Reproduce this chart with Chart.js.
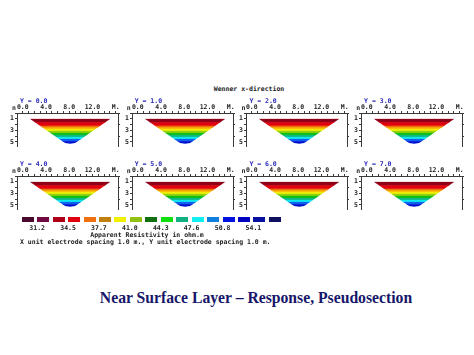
<!DOCTYPE html>
<html>
<head>
<meta charset="utf-8">
<script src="https://cdn.jsdelivr.net/npm/chart.js@4/dist/chart.umd.min.js"></script>
<style>
  html, body { margin: 0; padding: 0; background: #ffffff; }
  #wrap { position: relative; width: 474px; height: 355px; overflow: hidden; background: #fff; }
  .mono { position: absolute; font-family: 'DejaVu Sans Mono', monospace; font-weight: bold; font-size: 6.5px; line-height: 8px; white-space: nowrap; color: #222; }
  .ylab { color: #2a2ab8; }
  canvas { position: absolute; }
  .sw { position: absolute; height: 5px; width: 12px; }
  #foot { position: absolute; left: 0; width: 512px; top: 289px; text-align: center; font-family: 'Liberation Serif', 'Times New Roman', serif; font-weight: bold; font-size: 15.7px; color: #16166a; white-space: nowrap; }
</style>
</head>
<body>
<div id="wrap"></div>
<script>
// ---------- data ----------
const panelLabels = ['Y = 0.0', 'Y = 1.0', 'Y = 2.0', 'Y = 3.0', 'Y = 4.0', 'Y = 5.0', 'Y = 6.0', 'Y = 7.0'];
const xTickValues = [0, 1, 2, 3, 4, 5, 6, 7, 8, 9, 10, 11, 12, 13, 14, 15, 16];
const xMajorValues = [0, 4, 8, 12, 16];
const xMajorLabels = ['0.0', '4.0', '8.0', '12.0', 'M.'];
const yTickValues = [0, 1, 2, 3, 4, 5];
const yMajorValues = [1, 3, 5];
const yMajorLabels = ['1', '3', '5'];
// pseudosection outline (x in m, n level)
const outlineX = [1.2, 15.1, 9.6, 9.0, 8.15, 7.3, 6.7];
const outlineN = [1.0, 1.0, 4.8, 5.2, 5.35, 5.2, 4.8];
// contour band boundaries (n level) and colours
const bandEdges = [1.0, 1.65, 2.25, 2.55, 2.85, 3.15, 3.5, 3.85, 4.2, 4.55, 4.95, 5.4];
const bandColors = ['#900018', '#e00010', '#f07010', '#f8c000', '#f0f000', '#90d010', '#10c010', '#10b888', '#10e8f0', '#1060f0', '#0010d0'];
// legend
const legendColors = ['#4a0a30', '#700a40', '#b00018', '#e00010', '#f07010', '#c08010', '#f0f000', '#90c010', '#107010', '#10e010', '#10b080', '#10f0f0', '#1080e0', '#0010e0', '#0000c0', '#0810a0', '#101060'];
const legendValues = ['31.2', '34.5', '37.7', '41.0', '44.3', '47.6', '50.8', '54.1'];

// ---------- layout ----------
const wrap = document.getElementById('wrap');
const colLeft = [17, 131.7, 246.4, 361.1];
const rowTop = [113, 176];
const areaW = 101, axisTopH = 10, axisLeftW = 14, axisRightW = 3, canvasH = 44;

function addText(cls, txt, x, y, align) {
  const d = document.createElement('div');
  d.className = cls;
  d.textContent = txt;
  d.style.left = x + 'px';
  d.style.top = (y - 4) + 'px';
  if (align === 'center') d.style.transform = 'translateX(-50%)';
  if (align === 'right') d.style.transform = 'translateX(-100%)';
  wrap.appendChild(d);
  return d;
}

addText('mono', 'Wenner x-direction', 249, 89, 'center');

const bandPlugin = {
  id: 'bands',
  beforeDatasetsDraw(chart) {
    const { ctx, chartArea } = chart;
    const xs = chart.scales.x, ys = chart.scales.y;
    ctx.save();
    ctx.beginPath();
    outlineX.forEach((v, i) => {
      const px = xs.getPixelForValue(v), py = ys.getPixelForValue(outlineN[i]);
      if (i === 0) ctx.moveTo(px, py); else ctx.lineTo(px, py);
    });
    ctx.closePath();
    ctx.clip();
    for (let i = 0; i < bandColors.length; i++) {
      const y0 = ys.getPixelForValue(bandEdges[i]);
      const y1 = ys.getPixelForValue(bandEdges[i + 1]);
      ctx.fillStyle = bandColors[i];
      ctx.fillRect(chartArea.left, y0 - 0.3, chartArea.right - chartArea.left, y1 - y0 + 0.6);
    }
    ctx.restore();
  }
};

const tickFont = { family: 'DejaVu Sans Mono', size: 6.5, weight: 'bold' };
const axisColor = '#3a3a3a';
function noPad(s) { s.paddingTop = 0; s.paddingBottom = 0; s.paddingLeft = 0; s.paddingRight = 0; }

panelLabels.forEach((lab, i) => {
  const r = Math.floor(i / 4), c = i % 4;
  const L = colLeft[c], T = rowTop[r];
  const cv = document.createElement('canvas');
  const W = axisLeftW + areaW + axisRightW;
  cv.width = W; cv.height = canvasH;
  cv.style.left = (L - axisLeftW) + 'px';
  cv.style.top = (T - axisTopH) + 'px';
  cv.style.width = W + 'px'; cv.style.height = canvasH + 'px';
  wrap.appendChild(cv);
  addText('mono ylab', lab, L + 3, T - 12, 'left');
  addText('mono', 'n', L - 1, T - 5.5, 'right');

  new Chart(cv, {
    type: 'scatter',
    data: { datasets: [] },
    plugins: [bandPlugin],
    options: {
      responsive: false,
      animation: false,
      devicePixelRatio: 1,
      layout: { padding: 0 },
      plugins: { legend: { display: false }, tooltip: { enabled: false }, title: { display: false } },
      scales: {
        x: {
          type: 'linear', position: 'top', min: -1, max: 16.4,
          afterBuildTicks: s => { s.ticks = xTickValues.map(v => ({ value: v })); },
          afterFit: s => { s.height = axisTopH; noPad(s); },
          ticks: {
            autoSkip: false, maxRotation: 0, padding: 0, color: '#222', font: tickFont,
            callback: v => { const k = xMajorValues.indexOf(v); return k >= 0 ? xMajorLabels[k] : ''; }
          },
          grid: { drawOnChartArea: false, drawTicks: true, tickLength: 2, color: axisColor },
          border: { display: true, color: axisColor, width: 1 }
        },
        y: {
          type: 'linear', position: 'left', reverse: true, min: 0, max: 5.9,
          afterBuildTicks: s => { s.ticks = yTickValues.map(v => ({ value: v })); },
          afterFit: s => { s.width = axisLeftW; noPad(s); },
          ticks: {
            autoSkip: false, padding: 1, color: '#222', font: tickFont,
            callback: v => { const k = yMajorValues.indexOf(v); return k >= 0 ? yMajorLabels[k] : ''; }
          },
          grid: { drawOnChartArea: false, drawTicks: true, tickLength: 2, color: axisColor },
          border: { display: true, color: axisColor, width: 1 }
        },
        y2: {
          type: 'linear', position: 'right', reverse: true, min: 0, max: 5.9,
          afterBuildTicks: s => { s.ticks = yTickValues.map(v => ({ value: v })); },
          afterFit: s => { s.width = axisRightW; noPad(s); },
          ticks: { padding: 0, font: tickFont, callback: () => '' },
          grid: { drawOnChartArea: false, drawTicks: true, tickLength: 2, color: axisColor },
          border: { display: true, color: axisColor, width: 1 }
        }
      }
    }
  });
});

// legend
const swX0 = 21.7, swStep = 15.45, swY = 217;
legendColors.forEach((col, i) => {
  const d = document.createElement('div');
  d.className = 'sw';
  d.style.left = (swX0 + i * swStep) + 'px';
  d.style.top = swY + 'px';
  d.style.background = col;
  wrap.appendChild(d);
});
legendValues.forEach((v, k) => {
  addText('mono', v, swX0 + (2 * k + 1) * swStep, 227.5, 'center');
});
addText('mono', 'Apparent Resistivity in ohm.m', 147, 234.5, 'center');
addText('mono', 'X unit electrode spacing 1.0 m., Y unit electrode spacing 1.0 m.', 20, 241.5, 'left');

const foot = document.createElement('div');
foot.id = 'foot';
foot.textContent = 'Near Surface Layer – Response, Pseudosection';
wrap.appendChild(foot);
</script>
</body>
</html>
